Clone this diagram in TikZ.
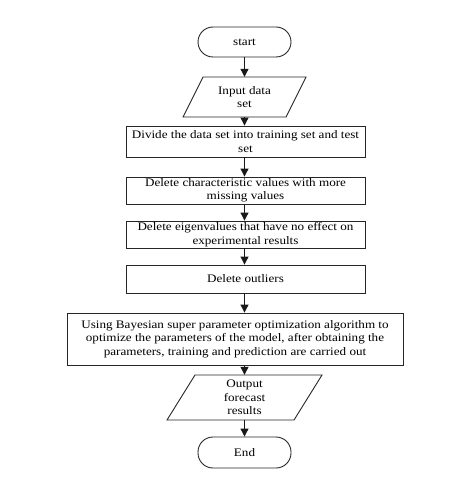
\documentclass[tikz,border=0pt]{standalone}
\usepackage{fontspec}
\setmainfont{Liberation Serif}[FakeStretch=1.14]
\usetikzlibrary{arrows.meta,calc}
\begin{document}
\begin{tikzpicture}[x=1pt,y=-1pt,
  every node/.style={font=\fontsize{11.5}{13.5}\selectfont, align=center, inner sep=0pt},
  procbox/.style={draw=black!85, line width=0.9pt, rectangle},
  termbox/.style={draw=black!85, line width=0.9pt, rounded corners=15pt},
  iobox/.style={rectangle},
  para/.style={draw=black!85, line width=0.9pt},
  flow/.style={draw=black!90, line width=1.1pt, -{Triangle[length=8pt,width=8pt]}}]
\useasboundingbox (0,0) rectangle (474,497);
% terminators
\node[termbox, minimum width=93pt, minimum height=30pt] (start) at (244.5,42) {start};
\node[termbox, minimum width=93pt, minimum height=31pt] (end) at (244.5,452.5) {End};
% input parallelogram
\node[iobox, minimum width=103pt, minimum height=40pt] (input) at (244.5,97) {Input data\\set};
\draw[para] (203,77) -- (306,77) -- (286,117) -- (183,117) -- cycle;
% process boxes
\node[procbox, minimum width=239pt, minimum height=31pt] (divide) at (245.5,141.5) {Divide the data set into training set and test\\set};
\node[procbox, minimum width=239pt, minimum height=27pt] (char) at (245.5,190.5) {Delete characteristic values with more\\missing values};
\node[procbox, minimum width=239pt, minimum height=27pt] (eigen) at (245.5,234.5) {Delete eigenvalues that have no effect on\\experimental results};
\node[procbox, minimum width=239pt, minimum height=28pt] (outl) at (245.5,279) {Delete outliers};
\node[procbox, minimum width=336pt, minimum height=52pt] (bayes) at (235,339) {Using Bayesian super parameter optimization algorithm to\\optimize the parameters of the model, after obtaining the\\parameters, training and prediction are carried out};
% output parallelogram
\node[iobox, minimum width=127pt, minimum height=45pt] (output) at (244.5,397.5) {Output\\forecast\\results};
\draw[para] (195,375) -- (322,375) -- (294,420) -- (167,420) -- cycle;
% connectors
\draw[flow] (start.south) -- (input.north);
\draw[flow] (input.south) -- (input.south |- divide.north);
\draw[flow] (divide.south -| input.south) -- (input.south |- char.north);
\draw[flow] (char.south -| input.south) -- (input.south |- eigen.north);
\draw[flow] (eigen.south -| input.south) -- (input.south |- outl.north);
\draw[flow] (outl.south -| input.south) -- (input.south |- bayes.north);
\draw[flow] (bayes.south -| input.south) -- (output.north);
\draw[flow] (output.south) -- (end.north);
\end{tikzpicture}
\end{document}
